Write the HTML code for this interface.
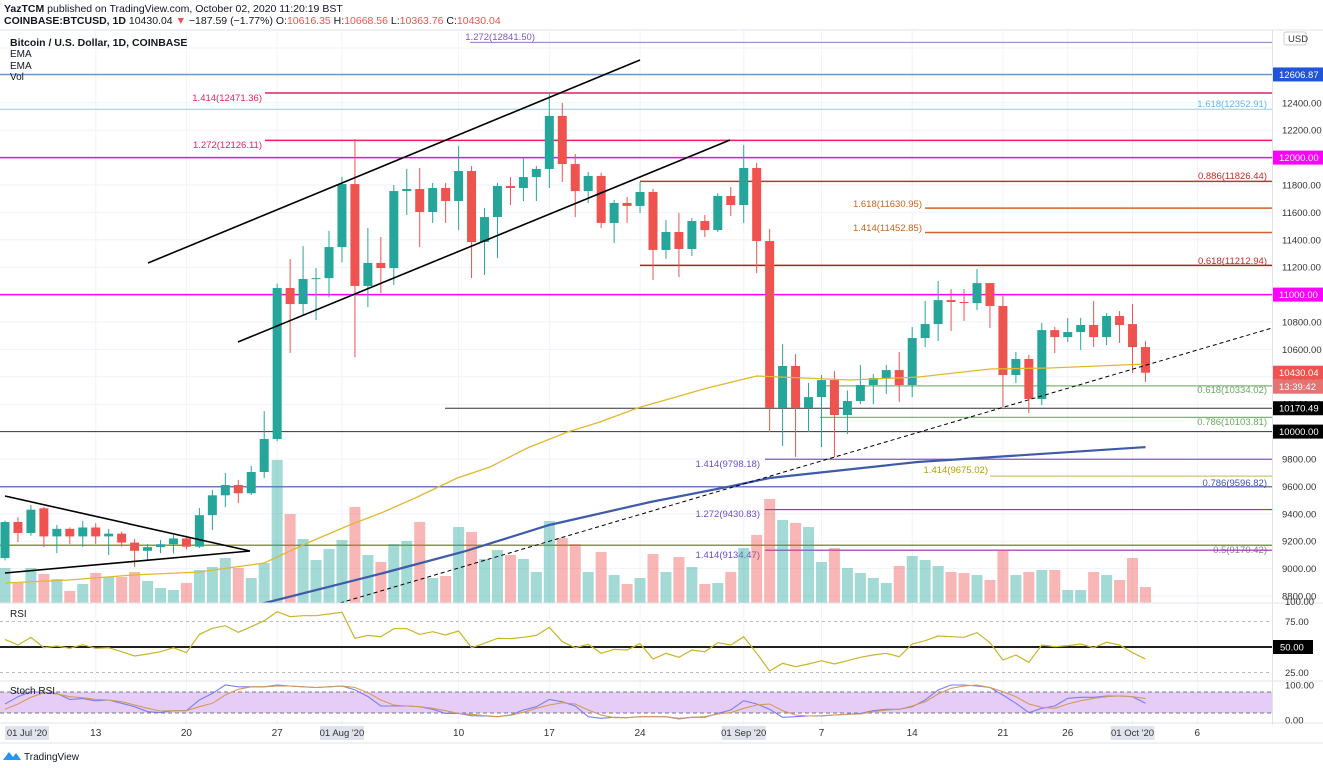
<!DOCTYPE html>
<html><head><meta charset="utf-8">
<style>
html,body{margin:0;padding:0;background:#fff;width:1323px;height:768px;overflow:hidden;}
svg{display:block;font-family:"Liberation Sans",sans-serif;}
</style></head>
<body>
<svg id="chart" width="1323" height="768" xmlns="http://www.w3.org/2000/svg">
  <rect x="0" y="0" width="1323" height="768" fill="#fff"/>
  <text x="4" y="12" font-size="10.5" fill="#131722"><tspan font-weight="bold">YazTCM</tspan> published on TradingView.com, October 02, 2020 11:20:19 BST</text>
  <text x="4" y="24" font-size="10.5" fill="#131722"><tspan font-weight="bold">COINBASE:BTCUSD, 1D</tspan> 10430.04 <tspan fill="#ef5350">▼</tspan> −187.59 (−1.77%) O:<tspan fill="#ef5350">10616.35</tspan> H:<tspan fill="#ef5350">10668.56</tspan> L:<tspan fill="#ef5350">10363.76</tspan> C:<tspan fill="#ef5350">10430.04</tspan></text>
  <g id="grid"></g>
  <g id="main"></g>
  <g id="rsi"></g>
  <g id="stoch"></g>
  <g id="axis"></g>
  <text x="10" y="46" font-size="10.5" font-weight="bold" fill="#131722">Bitcoin / U.S. Dollar, 1D, COINBASE</text>
  <text x="10" y="57" font-size="10" fill="#131722">EMA</text>
  <text x="10" y="69" font-size="10" fill="#131722">EMA</text>
  <text x="10" y="80" font-size="10" fill="#131722">Vol</text>
  <text x="10" y="617" font-size="10" fill="#131722">RSI</text>
  <text x="10" y="694" font-size="10" fill="#131722">Stoch RSI</text>
  <g>
    <path d="M3 760 L9 752 L13 757 L16 753 L21 760 Z" fill="#2196f3"/>
    <text x="24" y="760" font-size="10" fill="#131722">TradingView</text>
  </g>
</svg>
<script>
// ---- data ----
const opens  = [9077,9340,9260,9440,9235,9290,9235,9300,9235,9255,9190,9130,9157,9178,9220,9160,9390,9535,9610,9550,9705,9946,11048,10931,11114,11120,11347,11807,11063,11231,11194,11756,11771,11603,11778,11683,11902,11384,11566,11793,11778,11858,11917,12304,11953,11756,11866,11523,11669,11647,11749,11326,11457,11333,11537,11471,11720,11654,11924,11391,10172,10479,10172,10252,10376,10121,10223,10340,10391,10449,10340,10683,10785,10960,10946,10938,11084,10917,10413,10530,10238,10741,10690,10727,10778,10690,10844,10785,10617];
const highs  = [9350,9376,9464,9450,9318,9300,9347,9330,9289,9270,9216,9180,9208,9245,9240,9442,9573,9698,9646,9749,10150,11080,11260,11354,11194,11465,11860,12136,11486,11420,11800,11917,11924,11815,11815,12085,11939,11632,11815,11858,11997,11939,12479,12399,12026,11895,11888,11690,11712,11822,11771,11544,11595,11559,11581,11740,11785,12092,11961,11479,10639,10566,10355,10413,10442,10300,10486,10420,10486,10581,10763,10953,11099,11040,11040,11187,11084,10990,10581,10560,10793,10763,10829,10830,10953,10866,10880,10931,10661];
const lows   = [9060,9194,9240,9157,9113,9180,9157,9180,9099,9160,9011,9062,9113,9110,9140,9150,9281,9449,9478,9537,9661,9930,10574,10850,10814,10982,11235,10544,10909,11011,11070,11581,11347,11523,11523,11471,11121,11143,11267,11654,11683,11683,11778,11822,11566,11669,11486,11377,11523,11595,11106,11260,11128,11282,11420,11457,11574,11523,11157,9997,9894,9814,9997,9887,9814,9982,10201,10201,10274,10216,10252,10617,10661,10734,10807,10887,10756,10179,10355,10135,10194,10574,10654,10596,10617,10632,10647,10428,10362];
const closes = [9340,9260,9430,9235,9290,9235,9300,9235,9255,9190,9130,9157,9178,9220,9160,9390,9535,9610,9550,9705,9946,11048,10931,11114,11120,11347,11807,11063,11231,11194,11756,11771,11603,11778,11683,11902,11384,11566,11793,11778,11858,11917,12304,11953,11756,11866,11523,11669,11647,11749,11326,11457,11333,11537,11471,11720,11654,11924,11391,10172,10479,10172,10252,10376,10121,10223,10340,10391,10449,10340,10683,10785,10960,10946,10938,11084,10917,10413,10530,10238,10741,10690,10727,10778,10690,10844,10778,10617,10430];
const volumes = [35,20,35,29,24,12,19,30,26,26,31,22,15,13,20,33,36,45,35,25,40,143,89,64,43,54,63,96,48,41,59,62,81,25,27,76,71,44,53,48,44,31,82,65,59,31,51,28,19,25,49,31,46,36,19,20,31,55,68,104,83,80,76,41,55,35,30,25,20,37,47,43,37,31,30,28,23,53,28,31,33,33,13,13,31,28,23,45,16];
const emaFastIdx = [0,4.8,9.9,15,20,23.5,26.6,29.2,31.8,34.9,37.4,40.3,43.4,45.9,48.8,54.2,58,65.2,70.4,76,80.6,87.8];
const emaFastVal = [8895,8916,8953,8975,9041,9194,9318,9413,9522,9661,9741,9880,9997,10070,10172,10318,10406,10377,10398,10457,10464,10493];
const emaSlowIdx = [19.7,24,29.2,35.3,42,49.8,55.7,59,70.4,88];
const emaSlowVal = [8741,8843,8968,9121,9318,9486,9595,9661,9778,9887];
const rsiVals = [57.5,52,59.5,49.3,51,48.7,52.3,48.7,49.3,45.4,41.2,43.1,45.4,49.3,44.4,62.4,68.3,70.9,64.4,69.9,75.8,84.6,79.7,80.7,80.7,82.4,84,58.5,61.4,60.1,67.9,67.9,62.4,65,61.8,65.7,49.3,53.6,58.5,58.2,59.5,61.4,69.3,55.2,49.3,52.6,43.8,47.7,47.1,53.3,38.2,43.8,39.9,47.1,45.4,54.2,52,60.1,43.8,26.5,34,30.7,33.3,36.6,33.3,36.6,39.9,42.2,43.8,40.5,52.9,56.2,60.8,60.1,59.5,64,54.2,37.3,42.2,35,52,50.3,51.3,52.9,49.3,54.6,52,44.4,38.2];
const stochK = [45.7,66.7,81,78,76,59,61,55,57,47.6,38,23.8,21,26.7,26.7,57,76,100,95,95,95,100,97,95,93,95,97,86,67,40,40,40,38,30.5,19,19,12.4,11.4,9.5,14.3,28.6,38,59,52,40,9.5,4.8,7.6,6.7,9.5,9.5,9.5,2.9,7.6,7.6,19,28.6,55.2,45.7,30.5,7.6,9.5,11.4,11.4,14.3,16.2,19,26.7,30.5,30.5,38,57,85.7,100,100,97,93,71.4,47.6,21,33.3,40,61.9,64.8,64.8,68.6,68.6,66.7,47.6];
const stochD = [30.5,45.7,64.8,78,74.3,66.7,63.8,59,57,52.4,42.9,33.3,25.7,26.7,26.7,38,47.6,71.4,87.6,95,95,97,97,95,93,95,97,93,78,57,42.9,40,38,33.3,26.7,19,16.2,12.4,9.5,13.3,21.9,33.3,42.9,49.5,45.7,28.6,14.3,6.7,6.7,9.5,9.5,9.5,4.8,7.6,9.5,17.1,21,33.3,42.9,45.7,26.7,14.3,11.4,12.4,14.3,16.2,17.1,23.8,28.6,30.5,40,52.4,74.3,90.5,97,100,93,81,66.7,45.7,36.2,33.3,45.7,55.2,61.9,66.7,68.6,66.7,61];
const priceTicks = [12800,12600,12400,12200,12000,11800,11600,11400,11200,11000,10800,10600,10400,10200,10000,9800,9600,9400,9200,9000,8800];
const dateLabels = ["13","20","27","10","17","24","7","14","21","26","6"];
const dateIdx = [7,14,21,35,42,49,63,70,77,82,92];
const boxDateLabels = ["01 Jul '20","01 Aug '20","01 Sep '20","01 Oct '20"];
const boxDateIdx = [1.4,26,57,87];

// ---- scales ----
const X0 = 5, DX = 12.96;
function xAt(i){ return X0 + DX*i; }
function yP(p){ return 48 + (12800-p)*0.137; }
function yRsi(v){ return 647 - (v-50)*1.02; }
function yStoch(v){ return 720 - v*0.35; }
function yVol(v){ return 603 - v; }

const NS = "http://www.w3.org/2000/svg";
function mk(tag, attrs, parent){ const e=document.createElementNS(NS,tag); for(const k in attrs) e.setAttribute(k,attrs[k]); parent.appendChild(e); return e; }
const svg=document.getElementById('chart');
const grid=document.getElementById('grid'), main=document.getElementById('main'), rsiG=document.getElementById('rsi'), stG=document.getElementById('stoch'), axis=document.getElementById('axis');

const defs=mk('defs',{},svg);
const cp=mk('clipPath',{id:'mainclip'},defs);
mk('rect',{x:0,y:30,width:1272,height:573},cp);
main.setAttribute('clip-path','url(#mainclip)');

priceTicks.forEach(p=>{ const l=mk('line',{x1:0,x2:1272,y1:yP(p),y2:yP(p),stroke:'#f0f3fa','stroke-width':1},grid);

 });
dateIdx.concat(boxDateIdx.slice(1)).forEach(i=>{ const l=mk('line',{x1:xAt(i),x2:xAt(i),y1:30,y2:725,stroke:'#f0f3fa','stroke-width':1},grid);

 });

function hline(p,x1,color,w,name,dash){
  const l=mk('line',{x1:x1,x2:1272,y1:yP(p),y2:yP(p),stroke:color,'stroke-width':w||1},main);
  if(dash) l.setAttribute('stroke-dasharray',dash);
  
  
}
function ltext(x,y,t,color,name,anchor){
  const e=mk('text',{x:x,y:y,'font-size':9.5,fill:color},main);
  if(anchor) e.setAttribute('text-anchor',anchor);
  e.textContent=t;
  
  
}
hline(12841.5,470,'#9575cd',1,'fib-12841-line'); ltext(535,40,'1.272(12841.50)','#7e57c2','fib-12841-label','end');
hline(12606.87,0,'#6b9bd2',1.5,'level-12606-line');
hline(12471.36,265,'#e91e63',1.5,'fib-12471-line'); ltext(262,101,'1.414(12471.36)','#e91e63','fib-12471-label','end');
hline(12352.91,0,'#90cde8',1,'fib-12352-line'); ltext(1267,107,'1.618(12352.91)','#64b5f6','fib-12352-label','end');
hline(12126.11,265,'#e91e63',1.5,'fib-12126-line'); ltext(262,148,'1.272(12126.11)','#e91e63','fib-12126-label','end');
hline(12000,0,'#ff00ff',1.5,'level-12000-line');
hline(11826.44,640,'#b23a3a',1.5,'fib-11826-line'); ltext(1267,179,'0.886(11826.44)','#c62828','fib-11826-label','end');
hline(11630.95,925,'#d2622a',1.5,'fib-11630-line'); ltext(922,207,'1.618(11630.95)','#c8651b','fib-11630-label','end');
hline(11452.85,925,'#d2622a',1.5,'fib-11452-line'); ltext(922,231,'1.414(11452.85)','#c8651b','fib-11452-label','end');
hline(11212.94,640,'#b71c1c',1.5,'fib-11212-line'); ltext(1267,264,'0.618(11212.94)','#c62828','fib-11212-label','end');
hline(11000,0,'#ff00ff',1.5,'level-11000-line');
hline(10334.02,820,'#81b27a',1.2,'fib-10334-line'); ltext(1267,393,'0.618(10334.02)','#6aa861','fib-10334-label','end');
hline(10170.49,445,'#333',1,'level-10170-line');
hline(10103.81,820,'#81b27a',1.2,'fib-10103-line'); ltext(1267,425,'0.786(10103.81)','#6aa861','fib-10103-label','end');
hline(10000,0,'#333',1,'level-10000-line');
hline(9798.18,765,'#7e57c2',1.2,'fib-9798-line'); ltext(760,467,'1.414(9798.18)','#6a4fc9','fib-9798-label','end');
hline(9675.02,990,'#d4c46a',1.2,'fib-9675-line'); ltext(988,473,'1.414(9675.02)','#b6a000','fib-9675-label','end');
hline(9596.82,0,'#3f51b5',1.2,'level-9596-line'); ltext(1267,486,'0.786(9596.82)','#3f51b5','fib-9596-label','end');
hline(9430.83,765,'#9c27b0',1.2,'fib-9430-line'); ltext(760,517,'1.272(9430.83)','#6a4fc9','fib-9430-label','end');
hline(9170.42,0,'#8a9a3b',1.5,'fib-9170-line'); ltext(1267,553,'0.5(9170.42)','#888','fib-9170-label','end');
hline(9134.47,765,'#9c27b0',1.2,'fib-9134-line'); ltext(760,558,'1.414(9134.47)','#6a4fc9','fib-9134-label','end');

for(let i=0;i<opens.length;i++){
  const up=closes[i]>=opens[i], col=up?'#26a69a':'#ef5350', x=xAt(i);
  const w=mk('line',{x1:x,x2:x,y1:yP(highs[i]),y2:yP(lows[i]),stroke:col,'stroke-width':1},main);
  
  
  const top=yP(Math.max(opens[i],closes[i])), bot=yP(Math.min(opens[i],closes[i]));
  const b=mk('rect',{x:x-4.5,y:top,width:9,height:Math.max(1,bot-top),fill:col},main);
  
  
}
for(let i=0;i<volumes.length;i++){
  const up=closes[i]>=opens[i];
  const r=mk('rect',{x:xAt(i)-5.5,y:yVol(volumes[i]),width:11,height:volumes[i],fill:up?'#26a69a':'#ef5350','fill-opacity':0.42},main);
  
  
}
function poly(idx,vals,yf,color,w,parent,name){
  const pts=idx.map((ii,k)=>xAt(ii).toFixed(1)+','+yf(vals[k]).toFixed(1)).join(' ');
  const p=mk('polyline',{points:pts,fill:'none',stroke:color,'stroke-width':w},parent);
  
  
}
poly(emaFastIdx,emaFastVal,yP,'#e0b830',1.3,main,'ema-fast-line');
poly(emaSlowIdx,emaSlowVal,yP,'#3f5aa8',2.2,main,'ema-slow-line');

function tl(x1,y1,x2,y2,name,dash,w){
  const l=mk('line',{x1:x1,y1:y1,x2:x2,y2:y2,stroke:'#000','stroke-width':w||1.6},main);
  if(dash) l.setAttribute('stroke-dasharray',dash);
  
  
}
tl(148,263,640,60,'channel-upper');
tl(238,342,730,140,'channel-lower');
tl(5,496,250,551,'triangle-upper');
tl(5,573,250,551,'triangle-lower');
tl(340,603,1272,328,'dashed-trendline','4,3',1);

mk('line',{x1:1272.5,x2:1272.5,y1:30,y2:725,stroke:'#e0e3eb'},axis);
mk('line',{x1:0,x2:1323,y1:30,y2:30,stroke:'#e0e3eb'},axis);
priceTicks.forEach(p=>{ if(p===12800) return; const t=mk('text',{x:1282,y:yP(p)+3.5,'font-size':9.5,fill:'#333'},axis); t.textContent=p.toFixed(2);

 });
const usd=mk('rect',{x:1284,y:32,width:22,height:13,fill:'#fff',stroke:'#ccc',rx:2},axis);


const ut=mk('text',{x:1288,y:42,'font-size':9.5,fill:'#333'},axis); ut.textContent='USD';
function box(p,label,bg,fg,name,dy){
  const y=yP(p)+(dy||0);
  const r=mk('rect',{x:1273,y:y-7,width:50,height:14,fill:bg},axis);
  
  
  const t=mk('text',{x:1279,y:y+3.5,'font-size':9.5,fill:fg},axis); t.textContent=label;
}
box(12606.87,'12606.87','#1f55d6','#fff','price-box-12606');
box(12000,'12000.00','#ff00ff','#fff','price-box-12000');
box(11000,'11000.00','#ff00ff','#fff','price-box-11000');
box(10430.04,'10430.04','#ef5350','#fff','last-price-box');
box(10430.04,'13:39:42','#e57373','#fff','countdown-box',14);
box(10170.49,'10170.49','#000','#fff','price-box-10170');
box(10000,'10000.00','#000','#fff','price-box-10000');

[603,681,723].forEach(y=>{ const l=mk('line',{x1:0,x2:1323,y1:y,y2:y,stroke:'#e0e3eb'},axis);

 });

[[75,'#bbb','3,3'],[25,'#bbb','3,3']].forEach(a=>{ mk('line',{x1:0,x2:1272,y1:yRsi(a[0]),y2:yRsi(a[0]),stroke:a[1],'stroke-dasharray':a[2]},rsiG); });
mk('line',{x1:0,x2:1272,y1:yRsi(50),y2:yRsi(50),stroke:'#000','stroke-width':1.8},rsiG);
poly(rsiVals.map((v,i)=>i),rsiVals,yRsi,'#c8b62a',1.2,rsiG,'rsi-line');
[['100.00',605],['75.00',yRsi(75)+3.5],['25.00',yRsi(25)+3.5]].forEach(a=>{ const t=mk('text',{x:1285,y:a[1],'font-size':9.5,fill:'#333'},axis); t.textContent=a[0]; });
const rb=mk('rect',{x:1273,y:yRsi(50)-7,width:40,height:14,fill:'#000'},axis);


const rt=mk('text',{x:1280,y:yRsi(50)+3.5,'font-size':9.5,fill:'#fff'},axis); rt.textContent='50.00';

mk('rect',{x:0,y:yStoch(80),width:1272,height:yStoch(20)-yStoch(80),fill:'#e6cdf7'},stG);
[80,20].forEach(v=>mk('line',{x1:0,x2:1272,y1:yStoch(v),y2:yStoch(v),stroke:'#777','stroke-dasharray':'4,3'},stG));
poly(stochK.map((v,i)=>i),stochK,yStoch,'#7b7ff0',1.1,stG,'stoch-k-line');
poly(stochD.map((v,i)=>i),stochD,yStoch,'#d49a5a',1.1,stG,'stoch-d-line');
[['100.00',yStoch(100)+3.5],['0.00',yStoch(0)+3.5]].forEach(a=>{ const t=mk('text',{x:1285,y:a[1],'font-size':9.5,fill:'#333'},axis); t.textContent=a[0]; });

dateLabels.forEach((s,k)=>{ const t=mk('text',{x:xAt(dateIdx[k]),y:736,'font-size':10,fill:'#333','text-anchor':'middle'},axis); t.textContent=s;

 });
boxDateLabels.forEach((s,k)=>{ const cx=Math.max(27,xAt(boxDateIdx[k]));
  const r=mk('rect',{x:cx-22,y:726,width:44,height:14,fill:'#e0e3eb'},axis);
  
  
  const t=mk('text',{x:cx,y:736,'font-size':9.5,fill:'#333','text-anchor':'middle'},axis); t.textContent=s; });
mk('line',{x1:0,x2:1323,y1:743,y2:743,stroke:'#e0e3eb'},axis);
</script>
</body></html>
